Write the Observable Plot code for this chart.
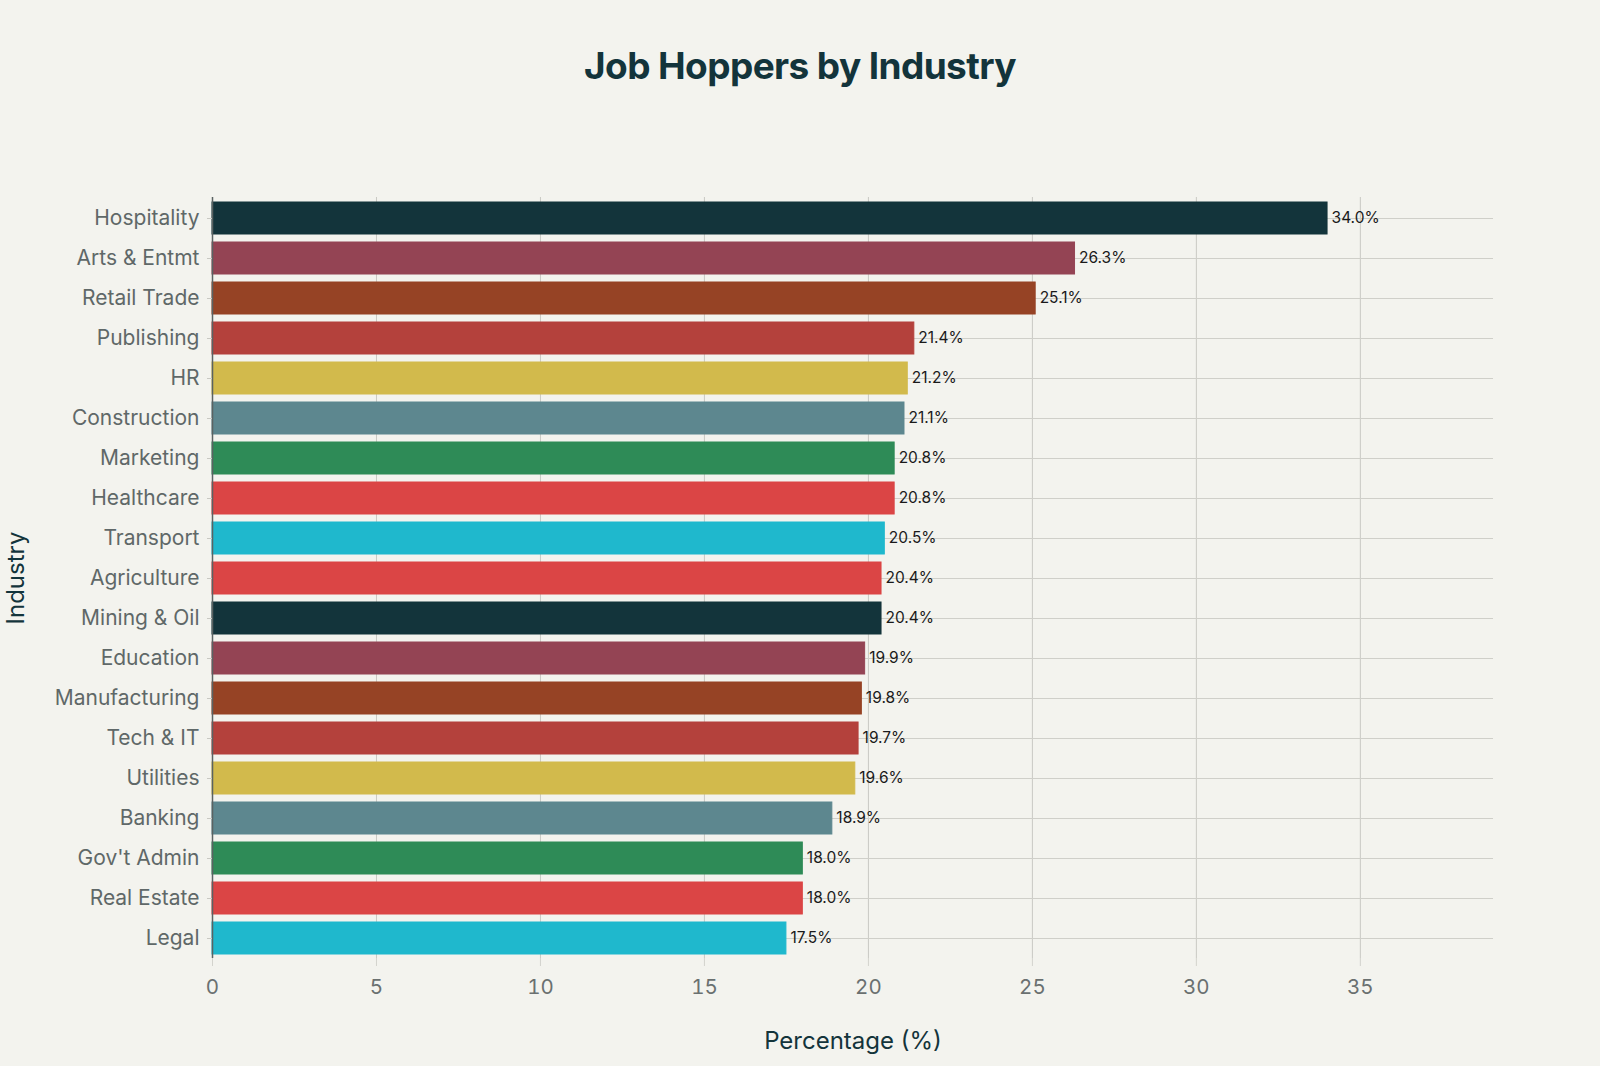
<!DOCTYPE html>
<html>
<head>
<meta charset="utf-8">
<script src="https://cdn.jsdelivr.net/npm/d3@7"></script>
<script src="https://cdn.jsdelivr.net/npm/@observablehq/plot@0.6"></script>
<style>
  html, body { margin: 0; padding: 0; background: #f3f3ee; }
  #wrap { width: 1600px; height: 1066px; position: relative; background: #f3f3ee; }
  #title { position: absolute; left: 0; top: 0; width: 1600px; height: 130px; text-align: center;
    font-family: Inter, "Liberation Sans", sans-serif; font-weight: 700; font-size: 37px; color: #13343b;
    letter-spacing: -0.6px; }
  #chart { position: absolute; left: 0; top: 130px; }
</style>
</head>
<body>
<div id="wrap">
  <div id="title"><span style="display:inline-block; line-height:1; margin-top:47px;">Job Hoppers by Industry</span></div>
  <div id="chart"></div>
</div>
<script>
const industries = ["Hospitality", "Arts & Entmt", "Retail Trade", "Publishing", "HR", "Construction",
  "Marketing", "Healthcare", "Transport", "Agriculture", "Mining & Oil", "Education", "Manufacturing",
  "Tech & IT", "Utilities", "Banking", "Gov't Admin", "Real Estate", "Legal"];
const percentages = [34.0, 26.3, 25.1, 21.4, 21.2, 21.1, 20.8, 20.8, 20.5, 20.4, 20.4, 19.9, 19.8,
  19.7, 19.6, 18.9, 18.0, 18.0, 17.5];
const barColors = ["#13343B", "#944454", "#964325", "#B4413C", "#D2BA4C", "#5D878F", "#2E8B57",
  "#DB4545", "#1FB8CD", "#DB4545", "#13343B", "#944454", "#964325", "#B4413C", "#D2BA4C", "#5D878F",
  "#2E8B57", "#DB4545", "#1FB8CD"];
const xTicks = [0, 5, 10, 15, 20, 25, 30, 35];
const xTitle = "Percentage (%)";
const yTitle = "Industry";

const data = industries.map((name, i) => ({name, value: percentages[i], color: barColors[i]}));

const font = "Inter, 'Liberation Sans', sans-serif";
const W = 1600, H = 936;
const mL = 212, mR = 107, mT = 67, mB = 108;

const chart = Plot.plot({
  width: W, height: H,
  marginLeft: mL, marginRight: mR, marginTop: mT, marginBottom: mB,
  style: {background: "transparent", fontFamily: font},
  x: {domain: [0, 39.06], ticks: xTicks},
  y: {domain: industries, paddingInner: 0.2, paddingOuter: 0.1},
  marks: [
    Plot.ruleX(xTicks.slice(1), {stroke: "#c9c9c3", strokeWidth: 1}),
    Plot.gridY(industries, {stroke: "#cfcfc9", strokeOpacity: 1, strokeWidth: 1}),
    Plot.barX(data, {x: "value", y: "name", fill: "color", stroke: "color", strokeWidth: 1}),
    Plot.ruleX([0], {stroke: "#5a6262", strokeWidth: 1.5}),
    Plot.text(data, {x: "value", y: "name", text: d => d.value.toFixed(1) + "%", dx: 4,
      textAnchor: "start", fontSize: 15.5, fill: "#1a1a1a", fontFamily: font, letterSpacing: "-0.3px"}),
    Plot.axisY({tickSize: 5, tickPadding: 8, fontSize: 21, stroke: "#c9c9c3", label: null, fill: "#5f6868"}),
    Plot.axisX(xTicks, {tickSize: 8, stroke: "#d3d3cd", tickPadding: 13, fontSize: 20.5, fill: "#6a7070", label: null}),
    Plot.text([xTitle], {frameAnchor: "bottom", dy: 83, fontSize: 24, fill: "#13343b", fontFamily: font, lineAnchor: "middle"}),
    Plot.text([yTitle], {frameAnchor: "left", dx: -196, rotate: -90, fontSize: 24, fill: "#13343b", fontFamily: font, lineAnchor: "middle", textAnchor: "middle"})
  ]
});
document.getElementById("chart").appendChild(chart);
</script>
</body>
</html>
